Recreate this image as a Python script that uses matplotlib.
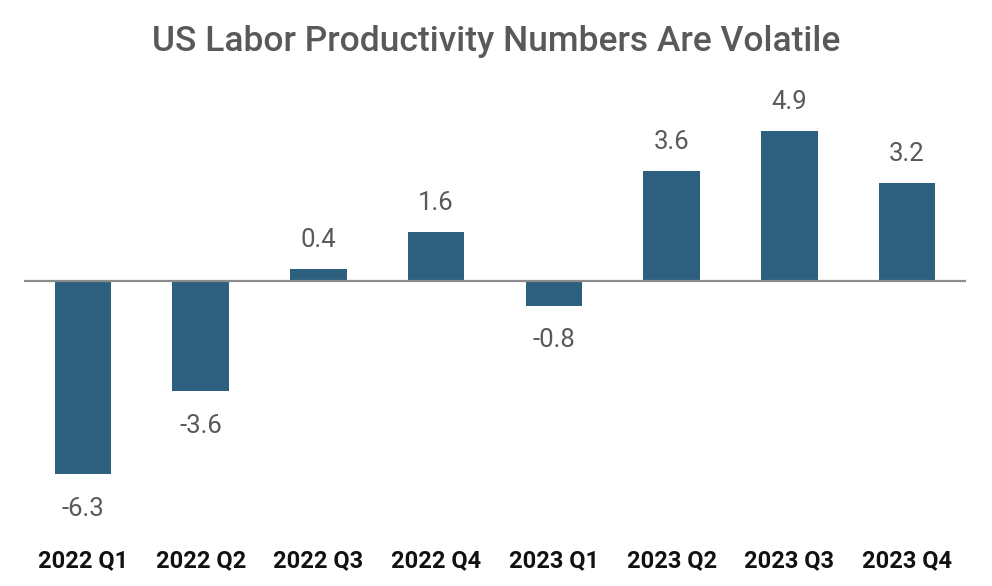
import matplotlib
matplotlib.use("Agg")
import matplotlib.pyplot as plt

# --- Data ---
QUARTERS = ["2022 Q1", "2022 Q2", "2022 Q3", "2022 Q4",
            "2023 Q1", "2023 Q2", "2023 Q3", "2023 Q4"]
PRODUCTIVITY = [-6.3, -3.6, 0.4, 1.6, -0.8, 3.6, 4.9, 3.2]

BAR_COLOR = "#2D5F7E"
TEXT_GRAY = "#595959"

fig = plt.figure(figsize=(9.92, 5.86), dpi=100)
ax = fig.add_axes([24 / 992, 46 / 586, 942 / 992, 440 / 586])

x = range(len(QUARTERS))
ax.bar(x, PRODUCTIVITY, width=0.48, color=BAR_COLOR, zorder=2)
ax.axhline(0, color="#8C8C8C", lw=1.6, zorder=3)

for i, v in enumerate(PRODUCTIVITY):
    off = 21 if v >= 0 else -25
    ax.annotate(f"{v:.1f}", (i, v), xytext=(0, off), textcoords="offset points",
                ha="center", va="center", fontsize=18.5, color=TEXT_GRAY,
                family="Roboto")

ax.set_xlim(-0.5, len(QUARTERS) - 0.5)
ax.set_ylim(-8.46, 5.92)
ax.set_yticks([])
ax.set_xticks([])
for s in ax.spines.values():
    s.set_visible(False)

for i, q in enumerate(QUARTERS):
    ax.text(i, -9.14, q, ha="center", va="center", fontsize=17, fontweight="bold",
            color="#111111", family="Roboto")

fig.text(0.5, 1 - 42 / 586, "US Labor Productivity Numbers Are Volatile",
         ha="center", va="center", fontsize=25.5, fontweight="medium",
         color=TEXT_GRAY, family="Roboto")

fig.savefig("out.png", dpi=100)
